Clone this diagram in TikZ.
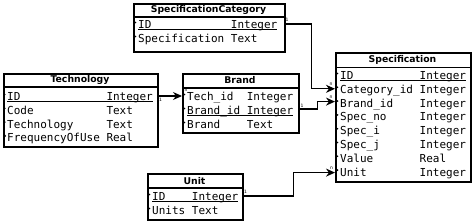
\documentclass[tikz,border=0pt]{standalone}
\usepackage{fontspec}
\setmainfont{DejaVu Sans}
\newfontfamily\fldfam{DejaVu Sans Mono}
\usetikzlibrary{arrows.meta}
\begin{document}
\begin{tikzpicture}[x=1pt,y=-1pt,
  ent/.style={draw, line width=1.6pt, anchor=north west, inner sep=0pt},
  ttl/.style={font=\fontsize{9.3}{10}\selectfont\bfseries, inner sep=0pt},
  sepline/.style={line width=1.1pt},
  fld/.style={font=\fontsize{11}{12}\fldfam, anchor=west, inner sep=0pt, text height=7.5pt, text depth=2.5pt},
  ul/.style={line width=0.7pt},
  conn/.style={line width=1.2pt, -{Stealth[length=9pt,width=8pt]}},
  lbl/.style={font=\fontsize{4.5}{5}\selectfont, inner sep=0pt},
  dotm/.style={fill=black}]
\useasboundingbox (0,0) rectangle (474,220);

% ---------- SpecificationCategory
\node[ent, minimum width=151pt, minimum height=48pt] (sc) at (133,3) {};
\node[ttl] (sct) at (208.5,10) {SpecificationCategory};
\draw[sepline] (sc.west |- 0,17) -- (sc.east |- 0,17);
\node[fld] (scn1) at (138,26) {ID};
\node[fld] (sct1) at (230.7,26) {Integer};
\node[fld] (scn2) at (138,40) {Specification};
\node[fld] (sct2) at (230.7,40) {Text};
\draw[ul] ([yshift=-1pt]scn1.base west) -- ([yshift=-1pt]sct1.base east);
\fill[dotm] (135.5,22.5) circle (0.9pt) (135.5,36.5) circle (0.9pt);

% ---------- Technology
\node[ent, minimum width=154pt, minimum height=73pt] (te) at (3,73) {};
\node[ttl] (tet) at (80,80) {Technology};
\draw[sepline] (te.west |- 0,87) -- (te.east |- 0,87);
\node[fld] (ten1) at (7,98) {ID};
\node[fld] (tet1) at (106.3,98) {Integer};
\node[fld] (ten2) at (7,111.8) {Code};
\node[fld] (tet2) at (106.3,111.8) {Text};
\node[fld] (ten3) at (7,125.6) {Technology};
\node[fld] (tet3) at (106.3,125.6) {Text};
\node[fld] (ten4) at (7,139.4) {FrequencyOfUse};
\node[fld] (tet4) at (106.3,139.4) {Real};
\draw[ul] ([yshift=-1pt]ten1.base west) -- ([yshift=-1pt]tet1.base east);
\fill[dotm] (4.8,94.5) circle (0.9pt) (4.8,108.3) circle (0.9pt) (4.8,122.1) circle (0.9pt);
\draw[line width=0.5pt] (4.8,135.9) circle (1pt);

% ---------- Brand
\node[ent, minimum width=116pt, minimum height=59pt] (br) at (182,73) {};
\node[ttl] (brt) at (240,80.5) {Brand};
\draw[sepline] (br.west |- 0,88) -- (br.east |- 0,88);
\node[fld] (brn1) at (187,98) {Tech\_id};
\node[fld] (brt1) at (246.6,98) {Integer};
\node[fld] (brn2) at (187,112) {Brand\_id};
\node[fld] (brt2) at (246.6,112) {Integer};
\node[fld] (brn3) at (187,126) {Brand};
\node[fld] (brt3) at (246.6,126) {Text};
\draw[ul] ([yshift=-1pt]brn2.base west) -- ([yshift=-1pt]brt2.base east);
\fill[dotm] (184.5,94.5) circle (0.9pt) (184.5,108.5) circle (0.9pt) (184.5,122.5) circle (0.9pt);

% ---------- Specification
\node[ent, minimum width=135pt, minimum height=129pt] (sp) at (335,52) {};
\node[ttl] (spt) at (402.5,60) {Specification};
\draw[sepline] (sp.west |- 0,67.5) -- (sp.east |- 0,67.5);
\node[fld] (spn1) at (340,77) {ID};
\node[fld] (spt1) at (419.5,77) {Integer};
\node[fld] (spn2) at (340,90.8) {Category\_id};
\node[fld] (spt2) at (419.5,90.8) {Integer};
\node[fld] (spn3) at (340,104.6) {Brand\_id};
\node[fld] (spt3) at (419.5,104.6) {Integer};
\node[fld] (spn4) at (340,118.4) {Spec\_no};
\node[fld] (spt4) at (419.5,118.4) {Integer};
\node[fld] (spn5) at (340,132.2) {Spec\_i};
\node[fld] (spt5) at (419.5,132.2) {Integer};
\node[fld] (spn6) at (340,146) {Spec\_j};
\node[fld] (spt6) at (419.5,146) {Integer};
\node[fld] (spn7) at (340,159.8) {Value};
\node[fld] (spt7) at (419.5,159.8) {Real};
\node[fld] (spn8) at (340,173.6) {Unit};
\node[fld] (spt8) at (419.5,173.6) {Integer};
\draw[ul] ([yshift=-1pt]spn1.base west) -- ([yshift=-1pt]spt1.base east);
\foreach \yy in {73.5,87.3,101.1,114.9,128.7,142.5,156.3,170.1}
  \fill[dotm] (337.5,\yy) circle (0.9pt);

% ---------- Unit
\node[ent, minimum width=95pt, minimum height=46pt] (un) at (147,173) {};
\node[ttl] (unt) at (194.5,181) {Unit};
\draw[sepline] (un.west |- 0,188) -- (un.east |- 0,188);
\node[fld] (unn1) at (152,198) {ID};
\node[fld] (unt1) at (191.7,198) {Integer};
\node[fld] (unn2) at (152,212) {Units};
\node[fld] (unt2) at (191.7,212) {Text};
\draw[ul] ([yshift=-1pt]unn1.base west) -- ([yshift=-1pt]unt1.base east);
\fill[dotm] (149.5,194.5) circle (0.9pt) (149.5,208.5) circle (0.9pt);

% ---------- connectors
\draw[conn] ([yshift=2pt]sc.east |- scn1) -- ++(26,0) |- ([yshift=2pt]sp.west |- spn2);
\draw[conn] ([yshift=2pt]te.east |- ten1) -- ([yshift=2pt]br.west |- ten1);
\draw[conn] ([yshift=3pt]br.east |- brn2) -- ++(18,0) |- ([yshift=3pt]sp.west |- spn3);
\draw[conn] ([yshift=2pt]un.east |- unn1) -- ++(50,0) |- ([yshift=1pt]sp.west |- spn8);

% ---------- multiplicity labels
\node[lbl] (m1) at (287,20) {1};
\node[lbl] (m2) at (331,84) {n};
\node[lbl] (m3) at (160.5,100) {1};
\node[lbl] (m4) at (186,90) {n};
\node[lbl] (m5) at (302,105.5) {1};
\node[lbl] (m6) at (331,97.5) {n};
\node[lbl] (m7) at (245.5,192) {1};
\node[lbl] (m8) at (331.5,168) {n};
\end{tikzpicture}
\end{document}
